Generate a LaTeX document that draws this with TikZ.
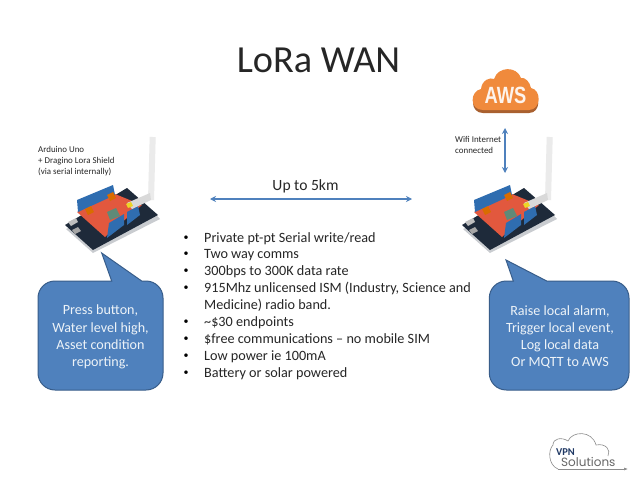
\documentclass[tikz,border=0pt]{standalone}
\usepackage{fontspec}
\setmainfont{Carlito}
\newfontfamily\awsfont{Liberation Sans}
\newfontfamily\logofont{Poppins}
\usetikzlibrary{positioning}
\usetikzlibrary{arrows.meta}
\definecolor{bubblefill}{HTML}{4F81BD}
\definecolor{bubbleline}{HTML}{385D8A}
\definecolor{awsorange}{HTML}{F08A3C}
\definecolor{awsdark}{HTML}{A9602F}
\definecolor{vpnblue}{HTML}{1F3864}
\definecolor{pcbdark}{HTML}{1E2A3A}
\definecolor{pcbshadow}{HTML}{C9CCD0}
\definecolor{shieldred}{HTML}{E2583E}
\definecolor{headerblue}{HTML}{2F6DB0}
\definecolor{chipgreen}{HTML}{5F8A78}
\tikzset{
  labeltext/.style={font=\fontsize{8.9}{11}\selectfont, text=black!85, align=left, inner sep=0pt},
  bullettext/.style={font=\fontsize{14.2}{16}\selectfont, text=black!85, anchor=base west, inner sep=0pt},
  bulletdot/.style={font=\fontsize{10}{12}\selectfont, text=black, anchor=base, inner sep=0pt},
  bubble/.style={fill=bubblefill, draw=bubbleline, line width=1pt},
  bubbletext/.style={font=\fontsize{14.1}{17.3}\selectfont, text=white!90!bubblefill, align=center, inner sep=0pt},
  linkarrow/.style={draw=bubblefill, line width=1.1pt, {Stealth[length=6pt,width=6pt]}-{Stealth[length=6pt,width=6pt]}},
  pics/board/.style={code={
    % antenna
    \draw[black!8, line width=6pt] (152.7,137) -- (151,200);
    % base board
    \fill[pcbshadow] (66,229) -- (93,253) -- (160,219) -- (140,198) -- cycle;
    \fill[pcbdark] (65,225) -- (127,188) -- (158,215) -- (93,250) -- cycle;
    \fill[black!25] (68,222) -- (76,218) -- (78,222) -- (71,226) -- cycle;
    \fill[black!35] (72,230) -- (78,227) -- (81,231) -- (75,234) -- cycle;
    % shield
    \fill[shieldred] (77,212) -- (115,194) -- (142,205) -- (105,237) -- cycle;
    % headers
    \fill[headerblue] (77,200) -- (113,185) -- (115,195) -- (78,212) -- cycle;
    \fill[headerblue] (109,223) -- (124,214) -- (124,225) -- (107,238) -- cycle;
    \fill[headerblue] (127,212) -- (138,206) -- (140,215) -- (127,225) -- cycle;
    % terminals
    \fill[orange!85!black] (85,209) -- (91,206) -- (94,212) -- (88,215) -- cycle;
    \fill[orange!85!black] (107,195) -- (113,192) -- (116,198) -- (110,201) -- cycle;
    % chip and socket
    \fill[chipgreen] (107,212) -- (116,208) -- (120,216) -- (110,220) -- cycle;
    \fill[black!15] (127,203) -- (150,193) -- (151,200) -- (132,209) -- cycle;
    \fill[yellow!70!brown] (126,204) -- (131,202) -- (133,206) -- (128,208) -- cycle;
  }},
}
\begin{document}
\begin{tikzpicture}[x=1pt,y=-1pt]
\useasboundingbox (0,0) rectangle (638,479);
\fill[white] (0,0) rectangle (638,479);

\node[font=\fontsize{38.3}{40}\selectfont, text=black!85] (title) at (318.5,60) {LoRa WAN};

% boards
\pic (boardleft) at (0,0) {board};
\pic (boardright) at (397,0) {board};

% aws cloud
\fill[awsdark] (483,113) .. controls (470,113) and (470,94) .. (481,92) -- (531,92) .. controls (541,94) and (541,113) .. (529,113) -- cycle;
\fill[awsorange] (483,110) .. controls (469,110) and (470,91) .. (481,89) .. controls (482,80) and (490,77) .. (494,79) .. controls (498,66) and (517,66) .. (521,78) .. controls (525,77) and (530,82) .. (531,88) .. controls (542,90) and (541,110) .. (529,110) -- cycle;
\node[font=\fontsize{23.5}{24}\awsfont\bfseries, text=white!90!awsorange, inner sep=0pt, xscale=0.78, transform shape] (aws) at (505.5,95.5) {AWS};

% labels
\node[labeltext, anchor=north west] (boardlabel) at (38,146.5) {Arduino Uno\\+ Dragino Lora Shield\\(via serial internally)};
\node[labeltext, anchor=north west] (wifilabel) at (455,136.5) {Wifi Internet\\connected};

% links
\coordinate (wifitop) at (505,128);
\coordinate (wifibot) at (505,173);
\draw[linkarrow] (wifitop) -- (wifibot);
\coordinate (spanleft) at (210,199);
\coordinate (spanright) at (412,199);
\draw[linkarrow] (spanleft) -- (spanright);
\node[font=\fontsize{15.6}{18}\selectfont, text=black!85, inner sep=0pt] (spanlabel) at (305.5,186.5) {Up to 5km};

% bullets
\foreach \n/\y/\t in {a/242/{Private pt-pt Serial write/read},
  b/258/Two way comms,
  c/275/300bps to 300K data rate,
  d/292/{915Mhz unlicensed ISM (Industry, Science and},
  f/326/\textasciitilde\$30 endpoints,
  g/343/\$free communications – no mobile SIM,
  h/360/Low power ie 100mA,
  i/377/Battery or solar powered} {
\node[bulletdot] (bul\n) at (186,\y-1.5) {•};
\node[bullettext] (item\n) at (204,\y) {\t};
}
\node[bullettext] (iteme) at (204,309) {Medicine) radio band.};

% left bubble
\path[bubble] (55,281) -- (111.7,281) -- (101.7,253) -- (141.7,281) -- (146,281) .. controls (155.4,281) and (163,288.6) .. (163,298) -- (163,373) .. controls (163,382.4) and (155.4,390) .. (146,390) -- (55,390) .. controls (45.6,390) and (38,382.4) .. (38,373) -- (38,298) .. controls (38,288.6) and (45.6,281) .. (55,281) -- cycle;
\node[bubbletext] (pressnote) at (100.5,337) {Press button,\\Water level high,\\Asset condition\\reporting.};

% right bubble
\path[bubble] (506.3,281) -- (513.3,281) -- (506,260) -- (546.7,281) -- (612,281) .. controls (621.4,281) and (629,288.6) .. (629,298) -- (629,373) .. controls (629,382.4) and (621.4,390) .. (612,390) -- (506.3,390) .. controls (496.9,390) and (489.3,382.4) .. (489.3,373) -- (489.3,298) .. controls (489.3,288.6) and (496.9,281) .. (506.3,281) -- cycle;
\node[bubbletext] (alarmnote) at (560,337) {Raise local alarm,\\Trigger local event,\\Log local data\\Or MQTT to AWS};

% vpn logo
\draw[black!45, line width=0.6pt] (558,469) .. controls (548,465) and (548,450) .. (553,445) .. controls (553,438) and (562,437) .. (568,441) .. controls (572,431) and (592,430) .. (596,445) .. controls (606,443) and (611,450) .. (608,456);
\draw[black!45, line width=0.6pt, -{Latex[length=4pt,width=3pt]}] (558,469) -- (628,469);
\node[font=\fontsize{10.5}{10}\selectfont\bfseries, text=vpnblue, inner sep=0pt, anchor=west] (vpn) at (556,452) {VPN};
\node[font=\fontsize{12}{12}\logofont, text=black!60, inner sep=0pt, anchor=west] (solutions) at (561,462) {Solutions};
\end{tikzpicture}
\end{document}
